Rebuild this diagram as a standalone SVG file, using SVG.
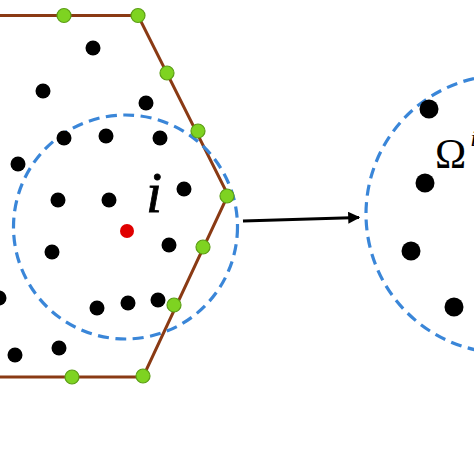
<svg xmlns="http://www.w3.org/2000/svg" width="474" height="474" viewBox="0 0 474 474">
<defs>
<style>
.dot{fill:#000}
.big{fill:#000}
.g{fill:#7ed321;stroke:#5c9e16;stroke-width:1.2}
.hex{fill:none;stroke:#8a3a14;stroke-width:3;stroke-linejoin:miter}
.dash{fill:none;stroke:#3a86d8;stroke-width:3.2;stroke-dasharray:11 6.5}
.lbl{font-family:"Liberation Serif","Times New Roman",serif;fill:#000}
</style>
<marker id="ah" viewBox="0 0 10 10" refX="9" refY="5" markerWidth="4" markerHeight="4" orient="auto" markerUnits="strokeWidth">
<path d="M0,0 L10,5 L0,10 Z" fill="#000"/>
</marker>
</defs>
<rect width="474" height="474" fill="#fff"/>
<g id="hexagon">
<polyline class="hex" points="0,15.5 138,15.5 228,195 143,377 0,377"/>
</g>
<g id="left-circle">
<circle class="dash" cx="125.5" cy="227" r="112"/>
</g>
<g id="right-circle">
<circle class="dash" cx="505" cy="214" r="139"/>
</g>
<g id="points-left">
<circle class="dot" cx="93" cy="48" r="7.5"/>
<circle class="dot" cx="43" cy="91" r="7.5"/>
<circle class="dot" cx="146" cy="103" r="7.5"/>
<circle class="dot" cx="64" cy="138" r="7.5"/>
<circle class="dot" cx="106" cy="136" r="7.5"/>
<circle class="dot" cx="160" cy="138" r="7.5"/>
<circle class="dot" cx="18" cy="164" r="7.5"/>
<circle class="dot" cx="184" cy="189" r="7.5"/>
<circle class="dot" cx="58" cy="200" r="7.5"/>
<circle class="dot" cx="109" cy="200" r="7.5"/>
<circle class="dot" cx="52" cy="252" r="7.5"/>
<circle class="dot" cx="169" cy="245" r="7.5"/>
<circle class="dot" cx="-1" cy="298" r="7.5"/>
<circle class="dot" cx="97" cy="308" r="7.5"/>
<circle class="dot" cx="128" cy="303" r="7.5"/>
<circle class="dot" cx="158" cy="300" r="7.5"/>
<circle class="dot" cx="15" cy="355" r="7.5"/>
<circle class="dot" cx="59" cy="348" r="7.5"/>
</g>
<g id="center-point">
<circle cx="127" cy="231" r="7" fill="#e00000"/>
</g>
<g id="boundary-points">
<circle class="g" cx="64" cy="15.5" r="7"/>
<circle class="g" cx="138" cy="15.5" r="7"/>
<circle class="g" cx="167" cy="73" r="7"/>
<circle class="g" cx="198" cy="131" r="7"/>
<circle class="g" cx="227" cy="196" r="7"/>
<circle class="g" cx="203" cy="247" r="7"/>
<circle class="g" cx="174" cy="305" r="7"/>
<circle class="g" cx="143" cy="376" r="7"/>
<circle class="g" cx="72" cy="377" r="7"/>
</g>
<g id="points-right">
<circle class="big" cx="429" cy="109" r="9.5"/>
<circle class="big" cx="425" cy="183" r="9.5"/>
<circle class="big" cx="411" cy="251" r="9.5"/>
<circle class="big" cx="454" cy="307" r="9.5"/>
</g>
<g id="label-i">
<text class="lbl" x="154" y="212" font-size="58" font-style="italic" text-anchor="middle" stroke="#000" stroke-width="0.8">i</text>
</g>
<g id="label-omega">
<text class="lbl" x="435" y="168" font-size="42">Ω<tspan font-size="24" font-style="italic" dx="4" dy="-22">i</tspan></text>
</g>
<g id="connectors">
<line x1="243" y1="221" x2="359" y2="217.5" stroke="#000" stroke-width="3" marker-end="url(#ah)"/>
</g>
</svg>
